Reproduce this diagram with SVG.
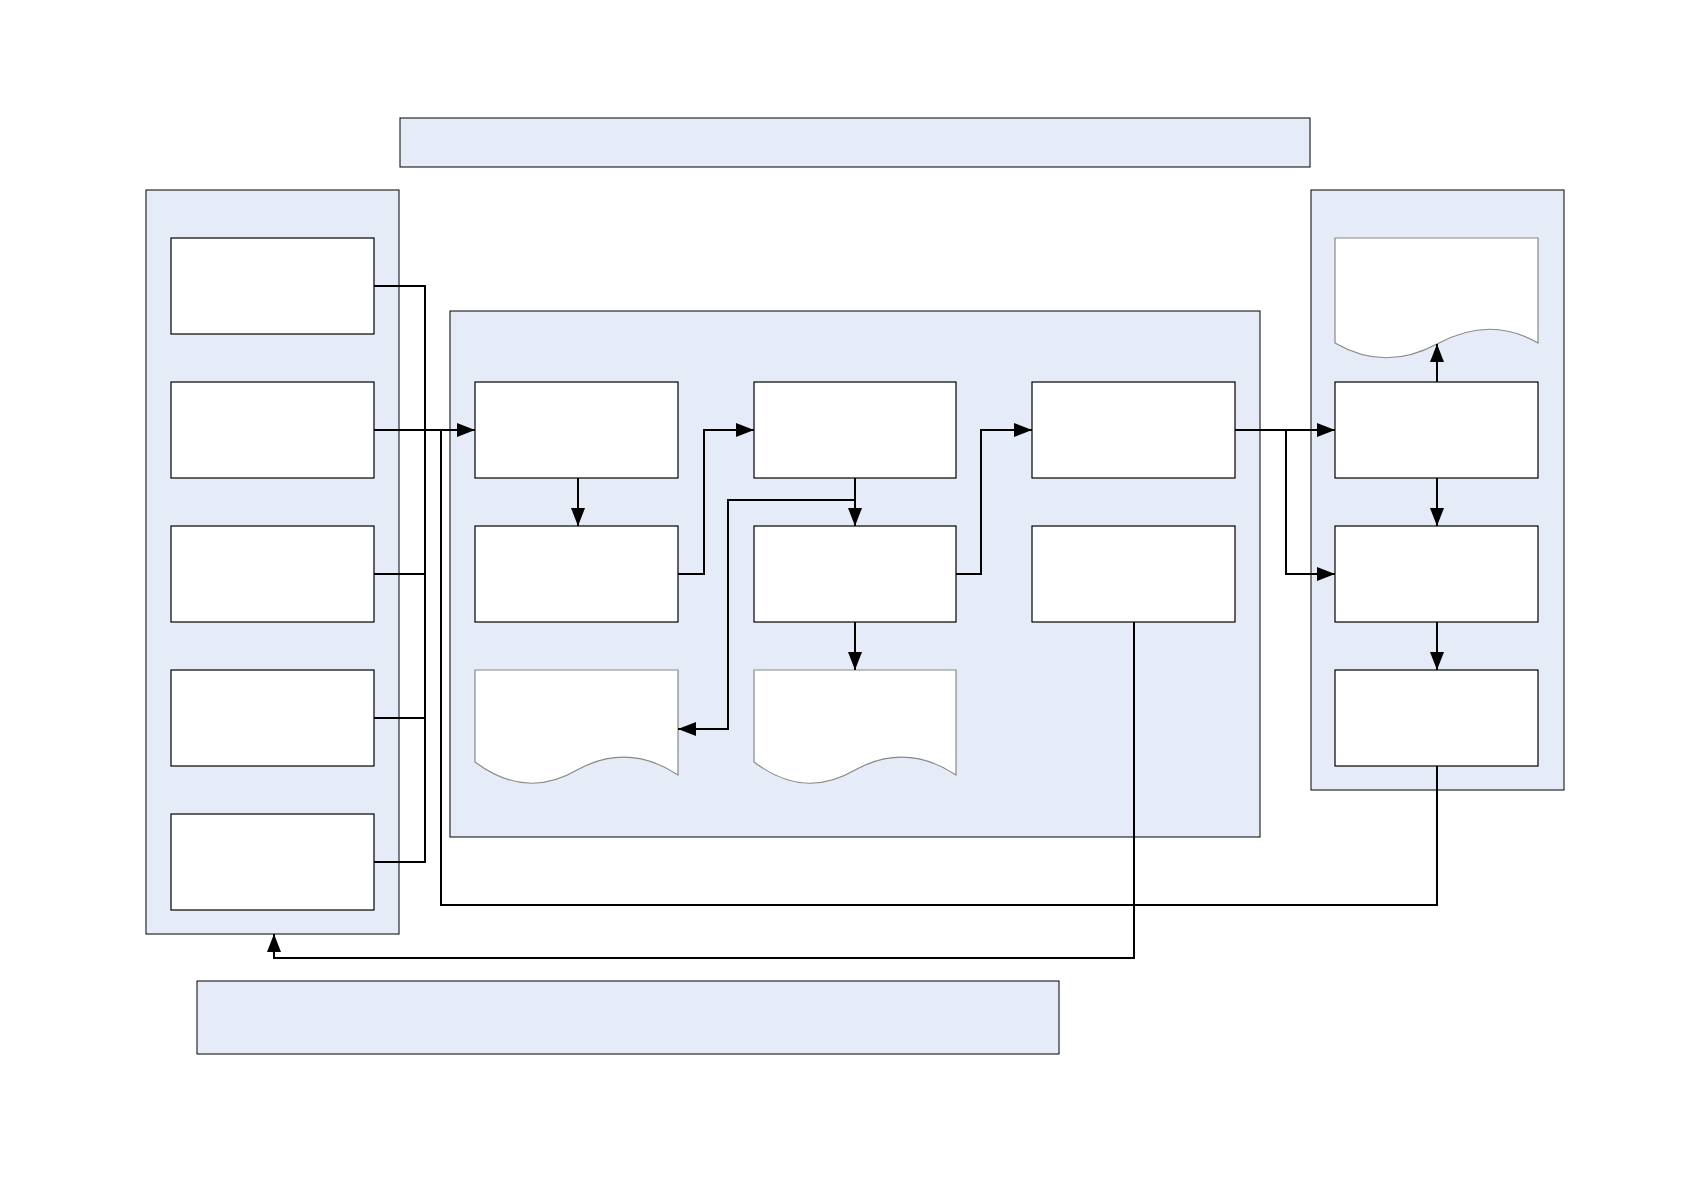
<svg xmlns="http://www.w3.org/2000/svg" width="1685" height="1191" viewBox="0 0 1685 1191">
<style>
.panel{fill:#e6ecf7;stroke:#000;stroke-width:1}
.box{fill:#fff;stroke:#000;stroke-width:1.2}
.doc{fill:#fff;stroke:#888;stroke-width:1.2}
.c{fill:none;stroke:#000;stroke-width:2}
</style>
<defs><marker id="a" markerWidth="10" markerHeight="8" refX="10" refY="4" orient="auto" markerUnits="userSpaceOnUse" viewBox="0 0 10 8"><path d="M0,0 L10,4 L0,8 z" fill="#000"/></marker>
<marker id="ab" markerWidth="18" markerHeight="14" refX="18" refY="7" orient="auto" markerUnits="userSpaceOnUse" viewBox="0 0 18 14"><path d="M0,0 L18,7 L0,14 z" fill="#000"/></marker></defs>
<rect width="1685" height="1191" fill="#fff"/>
<g id="topBanner"><rect class="panel" x="400" y="118" width="910" height="49"/></g>
<g id="bottomBanner"><rect class="panel" x="197" y="981" width="862" height="73"/></g>
<g id="leftPanel"><rect class="panel" x="146" y="190" width="253" height="744"/>
<rect class="box" x="171" y="238" width="203" height="96"/>
<rect class="box" x="171" y="382" width="203" height="96"/>
<rect class="box" x="171" y="526" width="203" height="96"/>
<rect class="box" x="171" y="670" width="203" height="96"/>
<rect class="box" x="171" y="814" width="203" height="96"/></g>
<g id="midPanel"><rect class="panel" x="450" y="311" width="810" height="526"/>
<rect class="box" x="475" y="382" width="203" height="96"/>
<rect class="box" x="475" y="526" width="203" height="96"/>
<path class="doc" d="M475,670 H678 V775 Q628,742 577,770 Q526,800 475,762 Z"/>
<rect class="box" x="754" y="382" width="202" height="96"/>
<rect class="box" x="754" y="526" width="202" height="96"/>
<path class="doc" d="M754,670 H956 V775 Q906,742 855,770 Q804,800 754,762 Z"/>
<rect class="box" x="1032" y="382" width="203" height="96"/>
<rect class="box" x="1032" y="526" width="203" height="96"/></g>
<g id="rightPanel"><rect class="panel" x="1311" y="190" width="253" height="600"/>
<path class="doc" d="M1335,238 H1538 V343 Q1490,315 1437,344 Q1385,372 1335,343 Z"/>
<rect class="box" x="1335" y="382" width="203" height="96"/>
<rect class="box" x="1335" y="526" width="203" height="96"/>
<rect class="box" x="1335" y="670" width="203" height="96"/></g>
<g id="connectors">
<path class="c" d="M374,286 H425 V862 H374 M374,574 H425 M374,718 H425"/>
<path class="c" d="M374,430 H475" marker-end="url(#ab)"/>
<path class="c" d="M441,430 V905 H1437 V766"/>
<path class="c" d="M578,478 V526" marker-end="url(#ab)"/>
<path class="c" d="M678,574 H704 V430 H754" marker-end="url(#ab)"/>
<path class="c" d="M855,478 V526" marker-end="url(#ab)"/>
<path class="c" d="M855,500 H728 V729 H678" marker-end="url(#ab)"/>
<path class="c" d="M855,622 V670" marker-end="url(#ab)"/>
<path class="c" d="M956,574 H981 V430 H1032" marker-end="url(#ab)"/>
<path class="c" d="M1235,430 H1335" marker-end="url(#ab)"/>
<path class="c" d="M1286,430 V574 H1335" marker-end="url(#ab)"/>
<path class="c" d="M1437,382 V344" marker-end="url(#ab)"/>
<path class="c" d="M1437,478 V526" marker-end="url(#ab)"/>
<path class="c" d="M1437,622 V670" marker-end="url(#ab)"/>
<path class="c" d="M1134,622 V958 H274 V934" marker-end="url(#ab)"/>
</g>
</svg>
